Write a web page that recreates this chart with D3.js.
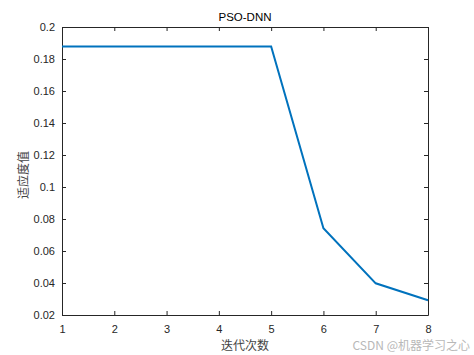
<!DOCTYPE html>
<html>
<head>
<meta charset="utf-8">
<script src="https://cdn.jsdelivr.net/npm/d3@7"></script>
<style>
  body { margin: 0; background: #fff; }
  svg { display: block; }
</style>
</head>
<body>
<div id="chart"></div>
<script>
const iterations = [1, 2, 3, 4, 5, 6, 7, 8];
const fitness = [0.1878, 0.1878, 0.1878, 0.1878, 0.1878, 0.0742, 0.0398, 0.0292];
const xTicks = [1, 2, 3, 4, 5, 6, 7, 8];
const yTicks = [0.02, 0.04, 0.06, 0.08, 0.1, 0.12, 0.14, 0.16, 0.18, 0.2];

const width = 474;
const height = 355;
const margin = { top: 27, right: 46, bottom: 40, left: 62 };

const svg = d3.select('#chart')
              .append('svg')
              .attr('width', width)
              .attr('height', height);

const x = d3.scaleLinear()
            .domain([1, 8])
            .range([margin.left, width - margin.right]);

const y = d3.scaleLinear()
            .domain([0.02, 0.2])
            .range([height - margin.bottom, margin.top]);

const axisColor = '#262626';
const tickFont = 'Liberation Sans, Arial, sans-serif';
const cjkFont = 'Noto Sans CJK SC, sans-serif';

// inward ticks, matlab style
const drawAxis = (axis, tx, ty) => {
  const g = svg.append('g')
               .attr('transform', 'translate(' + tx + ',' + ty + ')')
               .call(axis);
  g.select('.domain').attr('stroke', axisColor).attr('stroke-width', 1);
  g.selectAll('.tick line').attr('stroke', axisColor);
  g.selectAll('.tick text')
   .style('font-family', tickFont)
   .style('font-size', '11px')
   .attr('fill', axisColor);
  return g;
};

drawAxis(d3.axisBottom(x).tickValues(xTicks).tickFormat(d3.format('d')).tickSizeInner(-4).tickSizeOuter(0).tickPadding(10),
         0, height - margin.bottom);
drawAxis(d3.axisLeft(y).tickValues(yTicks).tickFormat(d3.format('~g')).tickSizeInner(-4).tickSizeOuter(0).tickPadding(7),
         margin.left, 0);
drawAxis(d3.axisTop(x).tickValues(xTicks).tickFormat('').tickSizeInner(-4).tickSizeOuter(0),
         0, margin.top);
drawAxis(d3.axisRight(y).tickValues(yTicks).tickFormat('').tickSizeInner(-4).tickSizeOuter(0),
         width - margin.right, 0);

const line = d3.line()
               .x((d, i) => x(iterations[i]))
               .y((d) => y(d));

svg.append('path')
   .datum(fitness)
   .attr('fill', 'none')
   .attr('stroke', '#0072BD')
   .attr('stroke-width', 2)
   .attr('d', line);

svg.append('text')
   .attr('x', (margin.left + width - margin.right) / 2)
   .attr('y', 21)
   .attr('text-anchor', 'middle')
   .style('font-family', tickFont)
   .style('font-size', '11.5px')
   .attr('fill', '#000')
   .text('PSO-DNN');

svg.append('text')
   .attr('x', (margin.left + width - margin.right) / 2)
   .attr('y', 350)
   .attr('text-anchor', 'middle')
   .style('font-family', cjkFont)
   .style('font-size', '12px')
   .attr('fill', '#444')
   .text('迭代次数');

svg.append('text')
   .attr('transform', 'translate(28,175) rotate(-90)')
   .attr('text-anchor', 'middle')
   .style('font-family', cjkFont)
   .style('font-size', '12px')
   .attr('fill', '#444')
   .text('适应度值');

svg.append('text')
   .attr('x', 470)
   .attr('y', 350)
   .attr('text-anchor', 'end')
   .style('font-family', cjkFont)
   .style('font-size', '12px')
   .attr('fill', '#b8b8b8')
   .text('CSDN @机器学习之心');
</script>
</body>
</html>
